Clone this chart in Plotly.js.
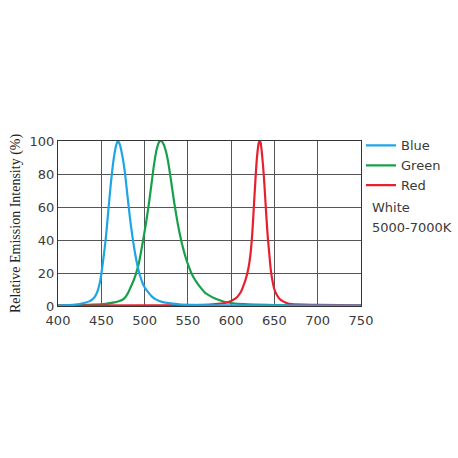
<!DOCTYPE html>
<html>
<head>
<meta charset="utf-8">
<script src="https://cdn.plot.ly/plotly-3.0.1.min.js"></script>
<style>
  html, body { margin: 0; padding: 0; background: #fff; }
  #chart { width: 458px; height: 458px; }
</style>
</head>
<body>
<div id="chart"></div>
<script>
// wavelength (nm) / relative intensity (%)
const blueX = [400, 420, 430, 436, 440, 443, 446, 449, 452, 455, 458, 461, 464, 467, 469, 471, 474, 477, 480, 483, 486, 489, 492, 495, 498, 501, 504, 508, 513, 520, 528, 540, 560, 600, 750]
const blueY = [0.3, 0.8, 1.8, 2.8, 4.2, 6, 9.5, 16, 27, 40, 57, 74, 88, 97, 100, 98.5, 92, 82, 68, 54, 42, 32, 24, 18, 13.5, 10.5, 8.5, 6, 4, 2.5, 1.8, 1, 0.6, 0.4, 0.2]

const greenX = [400, 440, 455, 465, 470, 474, 478, 481, 484, 487, 490, 493, 496, 499, 502, 505, 508, 511, 514, 517, 519, 521, 524, 527, 530, 533, 536, 539, 542, 545, 548, 551, 554, 557, 560, 565, 570, 575, 580, 586, 592, 600, 615, 650, 700, 750]
const greenY = [0.3, 0.8, 1.3, 2.2, 2.9, 3.6, 5.5, 8, 11.5, 15, 19.5, 25, 33, 42, 51.5, 62, 74, 86, 95, 99.5, 100, 99, 95, 88, 78, 67, 57, 48, 40.5, 34, 28.5, 24, 20, 17, 14.5, 11, 8, 6.3, 4.9, 3.6, 2.6, 1.8, 1.1, 0.6, 0.3, 0.2]

const redX = [400, 500, 550, 575, 588, 596, 602, 607, 611, 614, 617, 620, 622, 624, 626, 628, 630, 632, 633, 634, 636, 638, 640, 642, 644, 646, 648, 650, 653, 656, 660, 665, 670, 700, 750]
const redY = [0.2, 0.4, 0.6, 0.9, 1.5, 2.3, 3.6, 5.5, 8.3, 12, 16.5, 23, 30, 41, 58, 76, 91, 99, 100, 99, 90, 77, 60, 44, 32, 21, 14.5, 10, 6.5, 4.3, 2.8, 1.6, 1.1, 0.7, 0.4]

const xTicks = [400, 450, 500, 550, 600, 650, 700, 750]
const yTicks = [0, 20, 40, 60, 80, 100]

const textColor = "#3a3a3a"
const gridColor = "#555"

function serie(x, y, name, color, rank) {
  return {
    x: x,
    y: y,
    name: name,
    legendrank: rank,
    type: "scatter",
    mode: "lines",
    line: { color: color, width: 2.2, shape: "spline", smoothing: 0.8 },
    hoverinfo: "skip",
  }
}

// blue last so it sits on top along the baseline
const data = [
  serie(greenX, greenY, "Green", "#17a04a", 2),
  serie(redX, redY, "Red", "#e8202e", 3),
  serie(blueX, blueY, "Blue", "#1ea5e6", 1),
]

const layout = {
  width: 458,
  height: 458,
  margin: { l: 58, r: 95, t: 141, b: 152 },
  paper_bgcolor: "#fff",
  plot_bgcolor: "#fff",
  font: { family: "DejaVu Sans, sans-serif", size: 13, color: textColor },
  showlegend: true,
  legend: {
    x: 1.0,
    xanchor: "left",
    y: 1.064,
    yanchor: "top",
    font: { size: 13, color: textColor },
    itemwidth: 30,
    bgcolor: "rgba(0,0,0,0)",
  },
  xaxis: {
    range: [400, 750],
    tickvals: xTicks,
    ticks: "",
    ticklabelstandoff: 2,
    showgrid: true,
    gridcolor: gridColor,
    gridwidth: 1,
    showline: true,
    linecolor: "#333",
    linewidth: 1,
    mirror: true,
    zeroline: false,
    fixedrange: true,
  },
  yaxis: {
    range: [0, 100],
    tickvals: yTicks,
    ticks: "",
    showgrid: true,
    gridcolor: gridColor,
    gridwidth: 1,
    showline: true,
    linecolor: "#333",
    linewidth: 1,
    mirror: true,
    zeroline: false,
    fixedrange: true,
    title: {
      text: "Relative Emission Intensity (%)",
      font: { family: "Liberation Serif, serif", size: 14, color: "#222" },
      standoff: 5,
    },
  },
  annotations: [
    {
      xref: "paper", yref: "paper",
      x: 1.03, y: 0.596,
      xanchor: "left", yanchor: "middle",
      text: "White",
      showarrow: false,
      font: { size: 13, color: textColor },
    },
    {
      xref: "paper", yref: "paper",
      x: 1.03, y: 0.474,
      xanchor: "left", yanchor: "middle",
      text: "5000-7000K",
      showarrow: false,
      font: { size: 13, color: textColor },
    },
  ],
}

Plotly.newPlot("chart", data, layout, { displayModeBar: false, staticPlot: true })
</script>
</body>
</html>
